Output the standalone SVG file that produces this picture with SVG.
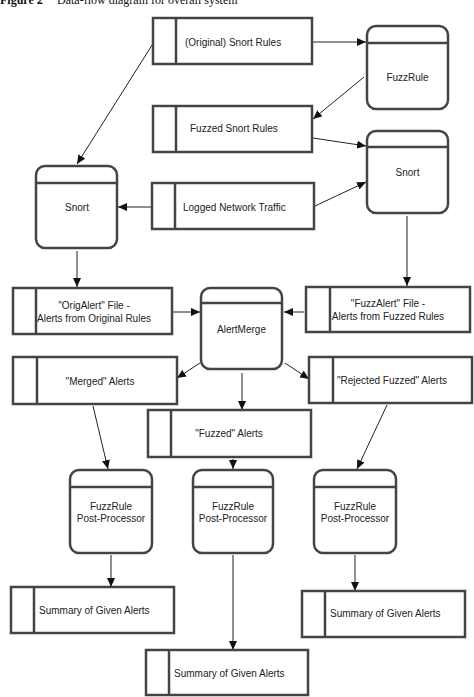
<svg xmlns="http://www.w3.org/2000/svg" width="474" height="697" viewBox="0 0 474 697">
<style>
.bx{fill:#fff;stroke:#444;stroke-width:2.5}
.dv{stroke:#444;stroke-width:2.5}
.t{font-family:"Liberation Sans",Arial,sans-serif;font-size:10px;fill:#222}
.c{stroke:#222;stroke-width:1;fill:none;marker-end:url(#ah)}
</style>
<defs>
<marker id="ah" markerUnits="userSpaceOnUse" markerWidth="10" markerHeight="8" refX="9" refY="4" orient="auto">
<path d="M0,0 L9,4 L0,8 Z" fill="#111"/>
</marker>
</defs>
<rect width="474" height="697" fill="#fff"/>
<text x="0" y="4" font-family="'Liberation Serif','Times New Roman',serif" font-size="12" fill="#111"><tspan font-weight="bold">Figure 2</tspan><tspan x="57">Data-flow diagram for overall system</tspan></text>

<g id="connectors">
<line class="c" x1="312" y1="42" x2="366" y2="42"/>
<line class="c" x1="364" y1="77" x2="313" y2="119"/>
<line class="c" x1="313" y1="138" x2="366" y2="146"/>
<line class="c" x1="153" y1="207" x2="118" y2="207"/>
<line class="c" x1="315" y1="206" x2="366" y2="182"/>
<line class="c" x1="154" y1="42" x2="77" y2="164"/>
<line class="c" x1="407" y1="216" x2="407" y2="286"/>
<line class="c" x1="77" y1="251" x2="77" y2="287"/>
<line class="c" x1="172" y1="312" x2="200" y2="312"/>
<line class="c" x1="304" y1="312" x2="284" y2="312"/>
<line class="c" x1="200" y1="363" x2="177" y2="378"/>
<line class="c" x1="285" y1="363" x2="309" y2="379"/>
<line class="c" x1="242" y1="373" x2="242" y2="410"/>
<line class="c" x1="93" y1="406" x2="108" y2="469"/>
<line class="c" x1="233" y1="459" x2="233" y2="469"/>
<line class="c" x1="387" y1="405" x2="357" y2="469"/>
<line class="c" x1="111" y1="555" x2="111" y2="587"/>
<line class="c" x1="355" y1="555" x2="355" y2="591"/>
<line class="c" x1="233" y1="555" x2="233" y2="650"/>
</g>

<g id="orig-rules"><rect class="bx" x="153" y="18" width="159" height="46"/><line class="dv" x1="176" y1="18" x2="176" y2="64"/><text class="t" x="185" y="45.5">(Original) Snort Rules</text></g>
<g id="fuzzrule"><rect class="bx" x="367" y="26" width="81" height="83" rx="9"/><line class="dv" x1="367" y1="43" x2="449" y2="43"/><text class="t" x="407.5" y="80.5" text-anchor="middle">FuzzRule</text></g>
<g id="fuzzed-rules"><rect class="bx" x="153" y="106" width="159" height="46"/><line class="dv" x1="176" y1="106" x2="176" y2="152"/><text class="t" x="190" y="131.5">Fuzzed Snort Rules</text></g>
<g id="snort-right"><rect class="bx" x="367" y="131" width="81" height="82" rx="9"/><line class="dv" x1="367" y1="147" x2="449" y2="147"/><text class="t" x="407.5" y="175.5" text-anchor="middle">Snort</text></g>
<g id="snort-left"><rect class="bx" x="36" y="166" width="81" height="82" rx="9"/><line class="dv" x1="36" y1="183" x2="118" y2="183"/><text class="t" x="77" y="210.5" text-anchor="middle">Snort</text></g>
<g id="logged"><rect class="bx" x="152" y="183" width="162" height="46"/><line class="dv" x1="175" y1="183" x2="175" y2="229"/><text class="t" x="183" y="210.5">Logged Network Traffic</text></g>
<g id="origalert"><rect class="bx" x="13" y="288" width="159" height="46"/><line class="dv" x1="36" y1="288" x2="36" y2="334"/><text class="t" x="94" y="308.5" text-anchor="middle">"OrigAlert" File -</text><text class="t" x="94" y="321.5" text-anchor="middle">Alerts from Original Rules</text></g>
<g id="alertmerge"><rect class="bx" x="201" y="288" width="81" height="81" rx="9"/><line class="dv" x1="201" y1="303" x2="283" y2="303"/><text class="t" x="241.5" y="332.5" text-anchor="middle">AlertMerge</text></g>
<g id="fuzzalert"><rect class="bx" x="306" y="287" width="164" height="45"/><line class="dv" x1="330" y1="287" x2="330" y2="332"/><text class="t" x="388" y="306.5" text-anchor="middle">"FuzzAlert" File -</text><text class="t" x="388" y="319.5" text-anchor="middle">Alerts from Fuzzed Rules</text></g>
<g id="merged"><rect class="bx" x="13" y="357" width="164" height="47"/><line class="dv" x1="37" y1="357" x2="37" y2="404"/><text class="t" x="100" y="384.5" text-anchor="middle">"Merged" Alerts</text></g>
<g id="rejected"><rect class="bx" x="309" y="357" width="163" height="46"/><line class="dv" x1="333" y1="357" x2="333" y2="403"/><text class="t" x="337" y="383.5">"Rejected Fuzzed" Alerts</text></g>
<g id="fuzzed-alerts"><rect class="bx" x="148" y="410" width="163" height="47"/><line class="dv" x1="171" y1="410" x2="171" y2="457"/><text class="t" x="229" y="436.5" text-anchor="middle">"Fuzzed" Alerts</text></g>
<g id="pp-left"><rect class="bx" x="70" y="470" width="82" height="83" rx="9"/><line class="dv" x1="70" y1="487" x2="153" y2="487"/><text class="t" x="111" y="509.5" text-anchor="middle">FuzzRule</text><text class="t" x="111" y="521.5" text-anchor="middle">Post-Processor</text></g>
<g id="pp-mid"><rect class="bx" x="193" y="470" width="80" height="83" rx="9"/><line class="dv" x1="193" y1="487" x2="274" y2="487"/><text class="t" x="233" y="509.5" text-anchor="middle">FuzzRule</text><text class="t" x="233" y="521.5" text-anchor="middle">Post-Processor</text></g>
<g id="pp-right"><rect class="bx" x="314" y="470" width="82" height="83" rx="9"/><line class="dv" x1="314" y1="487" x2="397" y2="487"/><text class="t" x="355" y="509.5" text-anchor="middle">FuzzRule</text><text class="t" x="355" y="521.5" text-anchor="middle">Post-Processor</text></g>
<g id="sum-left"><rect class="bx" x="11" y="587" width="163" height="46"/><line class="dv" x1="34" y1="587" x2="34" y2="633"/><text class="t" x="39" y="613.5">Summary of Given Alerts</text></g>
<g id="sum-right"><rect class="bx" x="302" y="591" width="163" height="46"/><line class="dv" x1="325" y1="591" x2="325" y2="637"/><text class="t" x="330" y="616.5">Summary of Given Alerts</text></g>
<g id="sum-bottom"><rect class="bx" x="146" y="650" width="162" height="45"/><line class="dv" x1="169" y1="650" x2="169" y2="695"/><text class="t" x="174" y="676.5">Summary of Given Alerts</text></g>
</svg>
